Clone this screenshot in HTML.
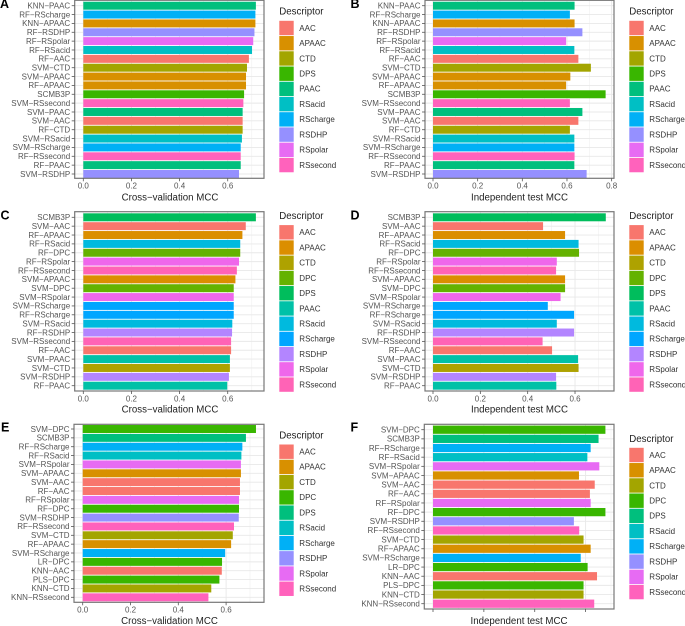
<!DOCTYPE html>
<html lang="en">
<head>
<meta charset="utf-8">
<title>MCC bar charts</title>
<style>
html,body{margin:0;padding:0;background:#fff;width:685px;height:626px;overflow:hidden}
svg{display:block;font-family:"Liberation Sans",sans-serif;filter:blur(0.3px)}
</style>
</head>
<body>
<svg id="chart" xmlns="http://www.w3.org/2000/svg" width="685" height="626" viewBox="0 0 685 626">
<g id="panel-a"></g>
<g id="panel-b"></g>
<g id="panel-c"></g>
<g id="panel-d"></g>
<g id="panel-e"></g>
<g id="panel-f"></g>
</svg>
<script>
const categoriesAB = ["KNN−PAAC","RF−RScharge","KNN−APAAC","RF−RSDHP","RF−RSpolar","RF−RSacid","RF−AAC","SVM−CTD","SVM−APAAC","RF−APAAC","SCMB3P","SVM−RSsecond","SVM−PAAC","SVM−AAC","RF−CTD","SVM−RSacid","SVM−RScharge","RF−RSsecond","RF−PAAC","SVM−RSDHP"];
const categoriesCD = ["SCMB3P","SVM−AAC","RF−APAAC","RF−RSacid","RF−DPC","RF−RSpolar","RF−RSsecond","SVM−APAAC","SVM−DPC","SVM−RSpolar","SVM−RScharge","RF−RScharge","SVM−RSacid","RF−RSDHP","SVM−RSsecond","RF−AAC","SVM−PAAC","SVM−CTD","SVM−RSDHP","RF−PAAC"];
const categoriesEF = ["SVM−DPC","SCMB3P","RF−RScharge","RF−RSacid","SVM−RSpolar","SVM−APAAC","SVM−AAC","RF−AAC","RF−RSpolar","RF−DPC","SVM−RSDHP","RF−RSsecond","SVM−CTD","RF−APAAC","SVM−RScharge","LR−DPC","KNN−AAC","PLS−DPC","KNN−CTD","KNN−RSsecond"];

const valuesA = [0.717,0.715,0.715,0.711,0.706,0.701,0.688,0.680,0.676,0.676,0.668,0.665,0.662,0.662,0.662,0.659,0.654,0.654,0.654,0.647];
const valuesB = [0.634,0.613,0.634,0.669,0.596,0.633,0.651,0.707,0.615,0.596,0.773,0.613,0.669,0.651,0.613,0.633,0.633,0.634,0.633,0.688];
const valuesC = [0.717,0.675,0.661,0.652,0.652,0.647,0.638,0.632,0.625,0.625,0.625,0.625,0.619,0.618,0.614,0.614,0.609,0.609,0.605,0.598];
const valuesD = [0.730,0.465,0.558,0.615,0.617,0.523,0.520,0.558,0.558,0.539,0.485,0.596,0.523,0.596,0.463,0.503,0.613,0.615,0.520,0.521];
const valuesE = [0.725,0.683,0.668,0.664,0.662,0.662,0.658,0.658,0.654,0.654,0.653,0.633,0.628,0.621,0.596,0.583,0.582,0.572,0.538,0.526];
const valuesF = [0.678,0.651,0.620,0.607,0.654,0.574,0.636,0.617,0.620,0.678,0.554,0.575,0.592,0.620,0.581,0.608,0.645,0.592,0.592,0.634];

const descriptorsAB = ["AAC","APAAC","CTD","DPS","PAAC","RSacid","RScharge","RSDHP","RSpolar","RSsecond"];
const descriptorsCD = ["AAC","APAAC","CTD","DPC","DPS","PAAC","RSacid","RScharge","RSDHP","RSpolar","RSsecond"];
const descriptorsEF = ["AAC","APAAC","CTD","DPC","DPS","RSacid","RScharge","RSDHP","RSpolar","RSsecond"];

const ticksA = [0,0.2,0.4,0.6];
const ticksB = [0,0.2,0.4,0.6,0.8];
const ticksC = [0,0.2,0.4,0.6];
const ticksD = [0,0.2,0.4,0.6];
const ticksE = [0,0.2,0.4,0.6];
const ticksF = [0,0.2,0.4,0.6];

const tickLabelsA = ["0.0","0.2","0.4","0.6"];
const tickLabelsB = ["0.0","0.2","0.4","0.6","0.8"];
const tickLabelsC = ["0.0","0.2","0.4","0.6"];
const tickLabelsD = ["0.0","0.2","0.4","0.6"];
const tickLabelsE = ["0.0","0.2","0.4","0.6"];
const tickLabelsF = [];

const hue10 = ["#F8766D","#D89000","#A3A500","#39B600","#00BF7D","#00BFC4","#00B0F6","#9590FF","#E76BF3","#FF62BC"];
const hue11 = ["#F8766D","#DB8E00","#AEA200","#64B200","#00BD5C","#00C1A7","#00BADE","#00A6FF","#B385FF","#EF67EB","#FF63B6"];

const NS = "http://www.w3.org/2000/svg";
function mk(parent, tag, attrs, txt) {
  const el = document.createElementNS(NS, tag);
  for (const k in attrs) el.setAttribute(k, attrs[k]);
  if (txt !== undefined) el.textContent = txt;
  parent.appendChild(el);
  return el;
}
function descriptorOf(cat) {
  return cat === "SCMB3P" ? "DPS" : cat.split("−")[1];
}
function drawPanel(id, letter, cfg, cats, vals, ticks, tickLabels, descriptors, palette, xTitle) {
  const g = document.getElementById(id);
  const xScale = v => cfg.x0 + v * cfg.k;
  const yStep = (cfg.lastY - cfg.firstY) / (cats.length - 1);
  const yScale = i => cfg.firstY + i * yStep;
  const barH = yStep * 0.9;
  const textC = "#555";

  const bg = mk(g, "rect", {x: cfg.L, y: cfg.T, width: cfg.R - cfg.L, height: cfg.B - cfg.T, fill: "#fff"});
  
  

  const step = ticks[1] - ticks[0];
  for (let i = 0; i <= ticks.length; i++) {
    const mv = ticks[0] + (i + 0.5) * step;
    if (xScale(mv) < cfg.R) {
      const minor = mk(g, "line", {x1: xScale(mv), x2: xScale(mv), y1: cfg.T, y2: cfg.B, stroke: "#EFEFEF", "stroke-width": 0.6});
      
      
    }
  }
  ticks.forEach(t => {
    const major = mk(g, "line", {x1: xScale(t), x2: xScale(t), y1: cfg.T, y2: cfg.B, stroke: "#E8E8E8", "stroke-width": 0.9});
    
    
  });
  cats.forEach((c, i) => {
    const hline = mk(g, "line", {x1: cfg.L, x2: cfg.R, y1: yScale(i), y2: yScale(i), stroke: "#E8E8E8", "stroke-width": 0.9});
    
    
  });

  vals.forEach((v, i) => {
    const color = palette[descriptors.indexOf(descriptorOf(cats[i]))];
    const bar = mk(g, "rect", {x: xScale(0), y: yScale(i) - barH / 2, width: xScale(v) - xScale(0), height: barH, fill: color});
    
    
  });

  const border = mk(g, "rect", {x: cfg.L, y: cfg.T, width: cfg.R - cfg.L, height: cfg.B - cfg.T, fill: "none", stroke: "#777", "stroke-width": 1.2});
  
  

  cats.forEach((c, i) => {
    const tick = mk(g, "line", {x1: cfg.L - 3, x2: cfg.L, y1: yScale(i), y2: yScale(i), stroke: "#555", "stroke-width": 0.8});
    
    
    const lab = mk(g, "text", {x: cfg.L - 4.5, y: yScale(i) + 2.8, "text-anchor": "end", "font-size": 8, fill: textC}, c);
    
    
  });

  ticks.forEach((t, i) => {
    const tick = mk(g, "line", {x1: xScale(t), x2: xScale(t), y1: cfg.B, y2: cfg.B + 3, stroke: "#555", "stroke-width": 0.8});
    
    
    if (tickLabels[i] !== undefined) {
      const lab = mk(g, "text", {x: xScale(t), y: cfg.B + 10.3, "text-anchor": "middle", "font-size": 8, fill: textC}, tickLabels[i]);
      
      
    }
  });

  const title = mk(g, "text", {x: cfg.titleX, y: cfg.titleY, "text-anchor": "middle", "font-size": 9.7, fill: "#222"}, xTitle);
  
  

  const pl = mk(g, "text", {x: cfg.letterX, y: cfg.letterY, "font-size": 12.5, "font-weight": "bold", fill: "#000"}, letter);
  
  

  const legTitle = mk(g, "text", {x: cfg.legX, y: cfg.legTitleY, "font-size": 9.7, fill: "#222"}, "Descriptor");
  
  
  descriptors.forEach((d, i) => {
    const cy = cfg.legY + i * 15.23;
    const key = mk(g, "rect", {x: cfg.legX, y: cy - 7.2, width: 14.4, height: 14.4, fill: palette[i]});
    
    
    const lt = mk(g, "text", {x: cfg.legX + 20, y: cy + 2.8, "font-size": 8, fill: "#333"}, d);
    
    
  });
}

drawPanel("panel-a", "A", {L:74.7,R:264,T:0.3,B:178.3,x0:83.3,k:240.7,firstY:5.7,lastY:174,titleX:170,titleY:200.5,letterX:0,letterY:8,legX:279.3,legTitleY:14.5,legY:28}, categoriesAB, valuesA, ticksA, tickLabelsA, descriptorsAB, hue10, "Cross−validation MCC");
drawPanel("panel-b", "B", {L:425,R:614,T:0.3,B:178.3,x0:433,k:223.3,firstY:5.7,lastY:174,titleX:519.5,titleY:200.5,letterX:350.5,letterY:8,legX:629.3,legTitleY:14.5,legY:28}, categoriesAB, valuesB, ticksB, tickLabelsB, descriptorsAB, hue10, "Independent test MCC");
drawPanel("panel-c", "C", {L:74.7,R:264,T:211.7,B:391,x0:83.3,k:240.7,firstY:217.3,lastY:385.7,titleX:170,titleY:412.5,letterX:0.5,letterY:219.5,legX:279.3,legTitleY:219,legY:232.3}, categoriesCD, valuesC, ticksC, tickLabelsC, descriptorsCD, hue11, "Cross−validation MCC");
drawPanel("panel-d", "D", {L:425,R:614,T:211.7,B:391,x0:433,k:236.7,firstY:217.3,lastY:385.7,titleX:519.5,titleY:412.5,letterX:350.5,letterY:219.5,legX:629.3,legTitleY:219,legY:232.3}, categoriesCD, valuesD, ticksD, tickLabelsD, descriptorsCD, hue11, "Independent test MCC");
drawPanel("panel-e", "E", {L:74,R:264,T:424.3,B:602.3,x0:82.7,k:239,firstY:429,lastY:597.3,titleX:169.5,titleY:624,letterX:1,letterY:431.7,legX:279.3,legTitleY:438.5,legY:451.7}, categoriesEF, valuesE, ticksE, tickLabelsE, descriptorsEF, hue10, "Cross−validation MCC");
drawPanel("panel-f", "F", {L:424.3,R:614,T:424.3,B:609,x0:433,k:254.3,firstY:429.7,lastY:603.7,titleX:519,titleY:624,letterX:350.5,letterY:431.7,legX:629.3,legTitleY:441.8,legY:455}, categoriesEF, valuesF, ticksF, tickLabelsF, descriptorsEF, hue10, "Independent test MCC");
</script>
</body>
</html>
